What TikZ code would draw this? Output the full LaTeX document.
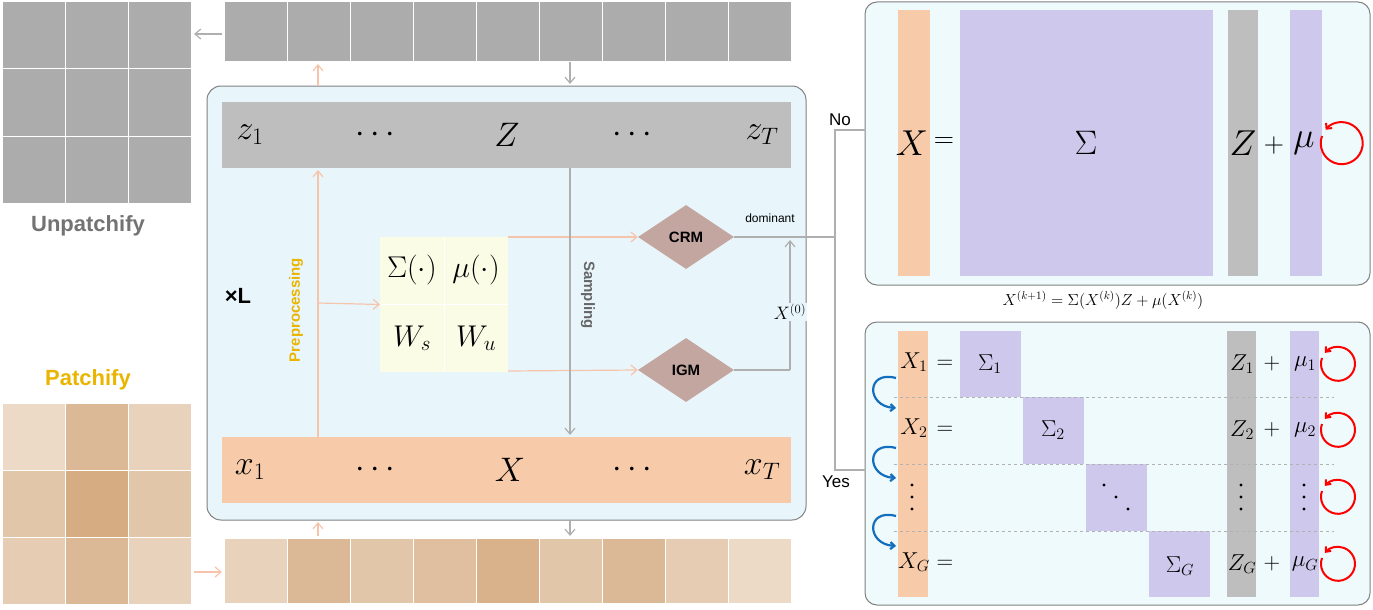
\RequirePackage{fix-cm}
\documentclass[tikz,border=0pt]{standalone}
\usepackage{fontspec}
\setsansfont{Liberation Sans}
\usetikzlibrary{shapes.geometric,arrows.meta}
\definecolor{peach}{RGB}{247,203,169}
\definecolor{zgray}{RGB}{190,190,190}
\definecolor{lav}{RGB}{206,200,236}
\definecolor{boxbg}{RGB}{232,246,252}
\definecolor{boxbg2}{RGB}{238,250,252}
\definecolor{mat}{RGB}{250,252,230}
\definecolor{dia}{RGB}{196,166,160}
\definecolor{orl}{RGB}{246,196,170}
\definecolor{gl}{RGB}{175,175,175}
\definecolor{yel}{RGB}{235,180,0}
\definecolor{bl}{RGB}{20,110,190}
\newcommand{\fs}[1]{\fontsize{#1}{#1}\selectfont}
\tikzset{
 oarr/.style={draw=orl,line width=1.2pt,-{Straight Barb[length=6pt,width=10pt]}},
 garr/.style={draw=gl,line width=1.2pt,-{Straight Barb[length=6pt,width=10pt]}},
 gline/.style={draw=gl,line width=1.2pt},
 bar/.style={inner sep=0pt,outer sep=0pt},
 dnode/.style={diamond,fill=dia,minimum width=96pt,minimum height=64pt,aspect=1.5,inner sep=0pt,font=\sffamily\bfseries\fs{15}},
 tile/.style={draw=white,line width=1pt},
 mth/.style={font=\fs{34}},
 mth2/.style={font=\fs{30}},
}
\begin{document}
\begin{tikzpicture}[x=1pt,y=-1pt]
\useasboundingbox (0,0) rectangle (1373,610);
% noise tiles
\foreach \i in {0,...,8}{\fill[gray!65,tile] (224+63*\i,2) rectangle ++(63,60);}
\foreach \i in {0,1,2}{\foreach \j in {0,1,2}{\fill[gray!65,tile] (2+63.3*\i,2+67*\j) rectangle ++(63.3,67);}}
% hamster tiles
\foreach \i/\c in {0/brown!35,1/brown!55,2/brown!45,3/brown!50,4/brown!60,5/brown!45,6/brown!55,7/brown!40,8/brown!30}{\fill[\c,tile] (224+63*\i,538) rectangle ++(63,65);}
\foreach \i/\j/\c in {0/0/brown!30,1/0/brown!55,2/0/brown!35,0/1/brown!45,1/1/brown!65,2/1/brown!45,0/2/brown!40,1/2/brown!55,2/2/brown!35}{\fill[\c,tile] (2+63.3*\i,403+67*\j) rectangle ++(63.3,67);}
\node[font=\sffamily\bfseries\fs{22},text=gray!90!black] (unp) at (88,226) {Unpatchify};
\node[font=\sffamily\bfseries\fs{22},text=yel] (pat) at (88,380) {Patchify};
\coordinate (toprowL) at (222,34); \coordinate (gridT) at (194,34);
\draw[garr] (toprowL) -- (gridT);
\coordinate (gridB) at (194,572); \coordinate (botrowL) at (222,572);
\draw[oarr] (gridB) -- (botrowL);
% main box
\node[draw=gray,line width=1pt,fill=boxbg,rounded corners=14pt,minimum width=599pt,minimum height=434pt,bar] (main) at (506.5,303) {};
\draw[oarr] (318,86) -- (318,64);
\draw[garr] (570,62) -- (570,84);
\draw[oarr] (318,536) -- (318,522);
\draw[garr] (570,521) -- (570,536);
\node[fill=zgray,minimum width=569pt,minimum height=66pt,bar] (Z) at (506.5,135) {};
\node[fill=peach,minimum width=569pt,minimum height=66pt,bar] (X) at (506.5,470) {};
\foreach \x/\t in {250/z_1,375/\cdots,507/Z,632/\cdots,762/z_T}{\node[mth] at (\x,135) {$\t$};}
\foreach \x/\t in {250/x_1,375/\cdots,510/X,632/\cdots,762/x_T}{\node[mth] at (\x,470) {$\t$};}
% matrix
\node[fill=mat,minimum width=128pt,minimum height=135pt,bar] (M) at (444,304.5) {};
\draw[white,line width=1pt] (444,237)--(444,372) (380,304)--(508,304);
\node[mth2] at (412,270) {$\Sigma(\cdot)$};
\node[mth2] at (476,270) {$\mu(\cdot)$};
\node[mth2] at (412,338) {$W_s$};
\node[mth2] at (476,338) {$W_u$};
\node[dnode] (crm) at (686,237) {CRM};
\node[dnode] (igm) at (686,370) {IGM};
\draw[oarr] (318,437) -- (318,170);
\draw[oarr] (318,303) -- (M.west);
\draw[oarr] (508,237) -- (crm.west);
\draw[oarr] (508,371) -- (igm.west);
\draw[garr] (570,168) -- (570,435);
\node[rotate=-90,font=\sffamily\bfseries\fs{15},text=gray!80!black] at (588,295) {Sampling};
\node[rotate=90,font=\sffamily\bfseries\fs{15},text=yel] at (296,310) {Preprocessing};
\node[font=\sffamily\bfseries\fs{22}] at (238,296) {×L};
\draw[gline] (igm.east) -- (790,370);
\draw[garr] (790,370) -- (790,240);
\node[fill=boxbg,font=\fs{18},inner sep=1pt] at (790,312) {$X^{(0)}$};
\node[font=\sffamily\fs{12}] at (770,218) {dominant};
% right boxes
\node[draw=gray,line width=1pt,fill=boxbg2,rounded corners=12pt,minimum width=505pt,minimum height=283pt,bar] (R1) at (1117.5,143.5) {};
\node[draw=gray,line width=1pt,fill=boxbg2,rounded corners=12pt,minimum width=505pt,minimum height=283pt,bar] (R2) at (1117.5,463.5) {};
\draw[gline] (crm.east) -- (835,237) -- (835,130) -- (866,130);
\draw[gline] (835,237) -- (835,470) -- (866,470);
\node[font=\sffamily\fs{17}] at (840,120) {No};
\node[font=\sffamily\fs{17}] at (836,482) {Yes};
% R1 content
\fill[peach] (898,10) rectangle (930,276);
\fill[lav] (960,10) rectangle (1213,276);
\fill[zgray] (1228,10) rectangle (1258,276);
\fill[lav] (1290,10) rectangle (1322,276);
\node[font=\fs{36}] at (912,143) {$X$};
\node[font=\fs{28}] at (944,143) {$=$};
\node[font=\fs{34}] at (1086,143) {$\Sigma$};
\node[font=\fs{36}] at (1243,143) {$Z$};
\node[font=\fs{28}] at (1274,146) {$+$};
\node[font=\fs{36}] at (1304,143) {$\mu$};
\draw[red,line width=2pt,-{Straight Barb[length=4pt,width=8pt]}] (1322,136) arc[start angle=200,end angle=-140,radius=21];
\node[font=\fs{16}] at (1103,300) {$X^{(k+1)}=\Sigma(X^{(k)})Z+\mu(X^{(k)})$};
% R2 content
\fill[peach] (898,331) rectangle (928,597);
\fill[zgray] (1227,331) rectangle (1256,597);
\fill[lav] (1290,331) rectangle (1319,597);
\fill[lav] (960,331) rectangle (1021,397);
\fill[lav] (1023,397) rectangle (1084,464);
\fill[lav] (1086,464) rectangle (1147,531);
\fill[lav] (1149,531) rectangle (1210,597);
\foreach \y in {397,464,531}{\draw[gray!60,dashed,line width=1pt] (894,\y) -- (1334,\y);}
\foreach \y/\a/\b/\c/\e in {364/X_1/Z_1/\mu_1/=,430/X_2/Z_2/\mu_2/=,564/X_G/Z_G/\mu_G/=}{
 \node[font=\fs{23}] at (914,\y-2) {$\a$};
 \node[font=\fs{23}] at (945,\y) {$\e$};
 \node[font=\fs{23}] at (1242,\y) {$\b$};
 \node[font=\fs{23}] at (1272,\y) {$+$};
 \node[font=\fs{23}] at (1305,\y) {$\c$};}
\foreach \x in {912,1241,1304}{\foreach \d in {-12,0,12}{\fill (\x,485+\d+12) circle[radius=1.6];}}
\foreach \d in {-12,0,12}{\fill (1116+\d,497+\d) circle[radius=1.6];}
\node[font=\fs{23}] at (990,364) {$\Sigma_1$};
\node[font=\fs{23}] at (1053,430) {$\Sigma_2$};
\node[font=\fs{23}] at (1180,566) {$\Sigma_G$};
\foreach \y in {364,430,497,564}{\draw[red,line width=2pt,-{Straight Barb[length=4pt,width=7pt]}] (1322,\y-6) arc[start angle=200,end angle=-140,radius=17];}
\foreach \y in {378,448,516}{\draw[bl,line width=2.2pt,-{Straight Barb[length=4pt,width=7pt]}] (896,\y) .. controls (866,\y-8) and (866,\y+28) .. (896,\y+30);}
\end{tikzpicture}
\end{document}
